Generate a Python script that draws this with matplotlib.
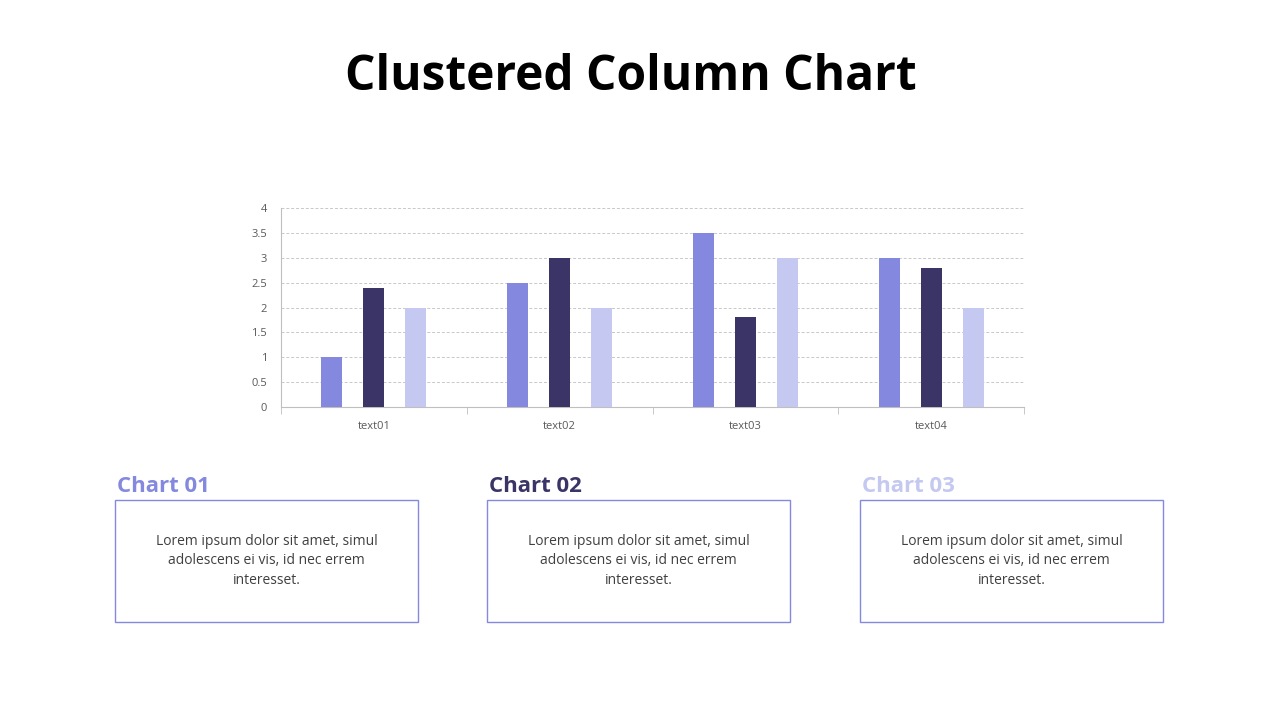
import numpy as np
import matplotlib.pyplot as plt
from matplotlib.patches import Rectangle

# ==== Data ====
categories = ["text01", "text02", "text03", "text04"]
series_01 = [1.0, 2.5, 3.5, 3.0]
series_02 = [2.4, 3.0, 1.8, 2.8]
series_03 = [2.0, 2.0, 3.0, 2.0]
y_ticks = [0, 0.5, 1, 1.5, 2, 2.5, 3, 3.5, 4]
y_tick_labels = ["0", "0.5", "1", "1.5", "2", "2.5", "3", "3.5", "4"]
card_titles = ["Chart 01", "Chart 02", "Chart 03"]
card_text = "Lorem ipsum dolor sit amet, simul\nadolescens ei vis, id nec errem\ninteresset."

colors = ["#8489DF", "#3A3566", "#C5C8F0"]

plt.rcParams['font.family'] = ['Open Sans', 'DejaVu Sans']

fig = plt.figure(figsize=(12.8, 7.2), dpi=100)
W, H = 1280, 720

# title
fig.text(631 / W, 1 - 77 / H, "Clustered Column Chart", ha='center', va='center',
         fontsize=34.5, fontweight='bold', color='black')

# ==== Chart ====
ax = fig.add_axes([281 / W, 1 - 407 / H, (1024 - 281) / W, (407 - 208) / H])
x = np.arange(len(categories))
offset = 0.226
width = 0.113
for i, (vals, col) in enumerate(zip([series_01, series_02, series_03], colors)):
    ax.bar(x + (i - 1) * offset, vals, width=width, color=col, zorder=3)

ax.set_xlim(-0.5, len(categories) - 0.5)
ax.set_ylim(0, 4)
ax.set_yticks(y_ticks)
ax.set_yticklabels(y_tick_labels)
ax.set_xticks(x)
ax.set_xticklabels(categories)
ax.set_xticks(np.arange(-0.5, len(categories), 1.0), minor=True)
ax.tick_params(axis='x', which='major', length=0, pad=10, labelsize=8, labelcolor='#595959')
ax.tick_params(axis='x', which='minor', length=5, color='#BFBFBF')
ax.tick_params(axis='y', length=0, pad=10, labelsize=8, labelcolor='#595959')
ax.grid(axis='y', color='#C8C8C8', linestyle=(0, (3, 2)), linewidth=0.7, zorder=0)
for s in ['top', 'right']:
    ax.spines[s].set_visible(False)
ax.spines['left'].set_color('#BFBFBF')
ax.spines['bottom'].set_color('#BFBFBF')

# ==== Cards ====
card_left = [115, 487, 860]
for title, left, col in zip(card_titles, card_left, colors):
    fig.text((left + 2) / W, 1 - 486 / H, title, ha='left', va='center',
             fontsize=16, fontweight='bold', color=col)
    fig.patches.append(Rectangle((left / W, 1 - 622 / H), 303 / W, 122 / H,
                                 transform=fig.transFigure, fill=False,
                                 edgecolor='#8489DF', linewidth=1))
    fig.text((left + 151.5) / W, 1 - 561 / H, card_text, ha='center', va='center',
             fontsize=10, color='#404040', linespacing=1.45)

fig.savefig("out.png", dpi=100)
